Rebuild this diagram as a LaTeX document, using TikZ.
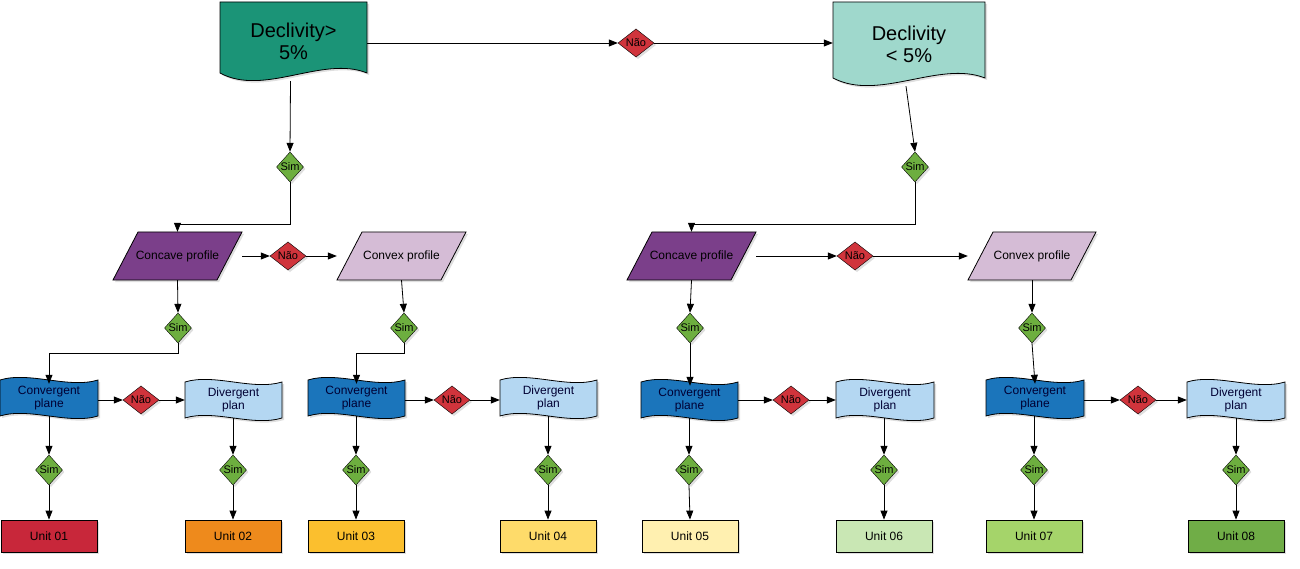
\documentclass[tikz,border=0pt]{standalone}
\usepackage{fontspec}
\setmainfont{Liberation Sans}
\usetikzlibrary{shapes.geometric,shadows,arrows.meta}
\definecolor{dA}{HTML}{1B9477}\definecolor{dB}{HTML}{9FD8CC}
\definecolor{cc}{HTML}{7B3F8A}\definecolor{cx}{HTML}{D5BCD6}
\definecolor{cv}{HTML}{1B75BB}\definecolor{dv}{HTML}{B4D7F2}
\definecolor{gr}{HTML}{6DAE3F}\definecolor{rd}{HTML}{D0343C}
\definecolor{uA}{HTML}{C8273A}\definecolor{uB}{HTML}{EE8A1C}\definecolor{uC}{HTML}{FBBF2E}\definecolor{uD}{HTML}{FEDB6A}
\definecolor{uE}{HTML}{FFF0B0}\definecolor{uF}{HTML}{C9E7B4}\definecolor{uG}{HTML}{A5D46A}\definecolor{uH}{HTML}{70AD47}
\tikzset{
 shp/.style={draw=black,line width=0.8pt,drop shadow={opacity=0.25,shadow xshift=2pt,shadow yshift=-2pt}},
 txt/.style={inner sep=0pt,align=center,font=\fontsize{12}{13}\selectfont},
 big/.style={txt,font=\fontsize{20}{22}\selectfont},
 sim/.style={diamond,draw=black,fill=gr,inner sep=0pt,minimum width=26pt,minimum height=30pt,font=\fontsize{11}{12}\selectfont,drop shadow={opacity=0.25,shadow xshift=2pt,shadow yshift=-2pt}},
 nao/.style={sim,fill=rd,minimum width=36pt,minimum height=28pt},
 unit/.style={rectangle,draw=black,line width=0.8pt,minimum width=96pt,minimum height=32pt,font=\fontsize{12}{13}\selectfont,drop shadow={opacity=0.25,shadow xshift=2pt,shadow yshift=-2pt}},
 arr/.style={-{Triangle[length=9pt,width=7pt]},line width=0.8pt},
}
% name,x1,y1,x2,y2,color,text
\newcommand\DocN[7]{%
 \pgfmathsetmacro\qa{#2+0.3*(#4-#2)}\pgfmathsetmacro\qb{#2+0.7*(#4-#2)}%
 \path[shp,fill=#6] (#2,#3) -- (#4,#3) -- (#4,#5) .. controls (\qb,#5-18) and (\qa,#5+24) .. (#2,#5) -- cycle;
 \node[big,minimum width={(#4-#2)*1pt},minimum height={(#5-#3+8)*1pt}] (#1) at ({(#2+#4)/2},{(#3+#5+8)/2}) {#7};}
\newcommand\TapeN[8]{%
 \pgfmathsetmacro\qa{#2+0.3*(#4-#2)}\pgfmathsetmacro\qb{#2+0.7*(#4-#2)}%
 \path[shp,fill=#6] (#2,#3) .. controls (\qa,#3-9) and (\qb,#3+9) .. (#4,#3) -- (#4,#5) .. controls (\qb,#5+9) and (\qa,#5-9) .. (#2,#5) -- cycle;
 \node[txt,text=#8,minimum width={(#4-#2)*1pt},minimum height={(#5-#3)*1pt}] (#1) at ({(#2+#4)/2},{(#3+#5)/2}) {#7};}
\newcommand\ParN[7]{%
 \path[shp,fill=#6] (#2+25,#3) -- (#4,#3) -- (#4-25,#5) -- (#2,#5) -- cycle;
 \node[txt,minimum width={(#4-#2)*1pt},minimum height={(#5-#3)*1pt}] (#1) at ({(#2+#4)/2},{(#3+#5)/2}) {#7};}
\begin{document}
\begin{tikzpicture}[x=1pt,y=-1pt]
\useasboundingbox (0,0) rectangle (1300,569);
\DocN{d1}{220}{2}{367}{73}{dA}{Declivity>\\5\%}
\DocN{d2}{833}{2}{985}{78}{dB}{Declivity\\< 5\%}
\node[nao,minimum width=36pt,minimum height=26pt] (n0) at (636,43) {Não};
\node[sim] (s1) at (290,167) {Sim};
\node[sim] (s2) at (915,167) {Sim};
\ParN{pa}{113}{232}{242}{280}{cc}{Concave profile}
\ParN{pb}{337}{232}{466}{280}{cx}{Convex profile}
\ParN{pc}{627}{232}{756}{280}{cc}{Concave profile}
\ParN{pd}{968}{232}{1096}{280}{cx}{Convex profile}
\node[nao] (n1) at (288,256) {Não};
\node[nao] (n2) at (855,256) {Não};
\foreach \n/\x in {sa/178,sb/404,sc/690,sd/1032} \node[sim] (\n) at (\x,328) {Sim};
\TapeN{c1}{0}{380}{98}{416}{cv}{Convergent\\plane}{black!80!blue}
\TapeN{v1}{185}{382}{282}{418}{dv}{Divergent\\plan}{black!80!blue}
\TapeN{c2}{308}{380}{405}{416}{cv}{Convergent\\plane}{black!80!blue}
\TapeN{v2}{500}{380}{597}{416}{dv}{Divergent\\plan}{black!80!blue}
\TapeN{c3}{641}{382}{738}{418}{cv}{Convergent\\plane}{black!80!blue}
\TapeN{v3}{836}{382}{934}{418}{dv}{Divergent\\plan}{black!80!blue}
\TapeN{c4}{986}{380}{1084}{416}{cv}{Convergent\\plane}{black!80!blue}
\TapeN{v4}{1187}{382}{1285}{418}{dv}{Divergent\\plan}{black!80!blue}
\foreach \n/\x in {m1/141,m2/452,m3/791,m4/1138} \node[nao] (\n) at (\x,400) {Não};
\foreach \n/\x in {t1/49,t2/233,t3/356,t4/548,t5/689,t6/884,t7/1034,t8/1236} \node[sim] (\n) at (\x,470) {Sim};
\node[unit,fill=uA] (u1) at (49,536) {Unit 01};
\node[unit,fill=uB] (u2) at (233,536) {Unit 02};
\node[unit,fill=uC] (u3) at (356,536) {Unit 03};
\node[unit,fill=uD] (u4) at (548,536) {Unit 04};
\node[unit,fill=uE] (u5) at (690,536) {Unit 05};
\node[unit,fill=uF] (u6) at (884,536) {Unit 06};
\node[unit,fill=uG] (u7) at (1034,536) {Unit 07};
\node[unit,fill=uH] (u8) at (1236,536) {Unit 08};
% connectors
\draw[arr] (d1.east|-n0) -- (n0);
\draw[arr] (n0) -- (d2.west|-n0);
\draw[arr] ([xshift=-3pt]d1.south) -- (s1.north);
\draw[arr] ([xshift=-3pt]d2.south) -- (s2.north);
\draw[arr] (s1.south) -- ++(0,42) -| (pa.north);
\draw[arr] (s2.south) -- ++(0,42) -| (pc.north);
\draw[arr] (pa) -- (n1); \draw[arr] (n1) -- (pb);
\draw[arr] (pc) -- (n2); \draw[arr] (n2) -- (pd);
\draw[arr] (pa.south) -- (sa.north);
\draw[arr] (pb.south) -- (sb.north);
\draw[arr] (pc.south) -- (sc.north);
\draw[arr] (pd.south) -- (sd.north);
\draw[arr] (sa.south) -- ++(0,10) -| ([yshift=-4pt]c1.north);
\draw[arr] (sb.south) -- ++(0,10) -| ([yshift=-4pt]c2.north);
\draw[arr] (sc.south) -- ([yshift=-4pt]c3.north-|sc);
\draw[arr] (sd.south) -- ([yshift=-4pt]c4.north);
\foreach \c/\m/\v in {c1/m1/v1,c2/m2/v2,c3/m3/v3,c4/m4/v4}{
 \draw[arr] (\c.east|-\m) -- (\m); \draw[arr] (\m) -- (\v.west|-\m);}
\foreach \a/\b/\c in {c1/t1/u1,v1/t2/u2,c2/t3/u3,v2/t4/u4,c3/t5/u5,v3/t6/u6,c4/t7/u7,v4/t8/u8}{
 \draw[arr] (\a.south-|\b) -- (\b.north); \draw[arr] (\b.south) -- (\c.north);}
\end{tikzpicture}
\end{document}
